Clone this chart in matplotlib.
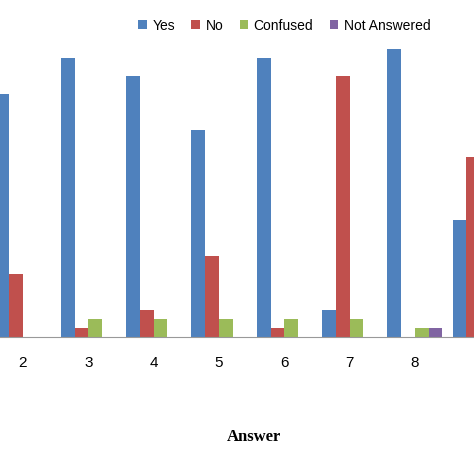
import numpy as np
import matplotlib.pyplot as plt

questions = [1, 2, 3, 4, 5, 6, 7, 8, 9]
yes = [30, 27, 31, 29, 23, 31, 3, 32, 13]
no = [4, 7, 1, 3, 9, 1, 29, 0, 20]
confused = [0, 0, 2, 2, 2, 2, 2, 1, 1]
not_answered = [0, 0, 0, 0, 0, 0, 0, 1, 0]

series = [("Yes", yes, "#4F81BD"), ("No", no, "#C0504D"),
          ("Confused", confused, "#9BBB59"), ("Not Answered", not_answered, "#8064A2")]

fig = plt.figure(figsize=(4.74, 4.74), dpi=100)
ax = fig.add_axes([0, 0.289, 1, 0.665])

x = np.array(questions)
w = 0.21
for i, (name, vals, col) in enumerate(series):
    ax.bar(x + (i - 1.5) * w, vals, w, color=col, label=name)

ax.set_xticks(x[1:8])
ax.set_xticklabels([str(q) for q in questions[1:8]], fontsize=11, family="Liberation Sans")
ax.set_xlim(1.648, 8.906)
ax.set_ylim(0, 35)
ax.tick_params(axis="x", length=0, pad=14)
ax.set_yticks([])
for s in ["top", "right", "left"]:
    ax.spines[s].set_visible(False)
ax.spines["bottom"].set_color("#999999")

ax.legend(loc="upper center", bbox_to_anchor=(0.6, 1.05), ncol=4, frameon=False,
          handlelength=0.6, handleheight=0.6, columnspacing=1.2, handletextpad=0.4,
          prop={"family": "Liberation Sans", "size": 10})

fig.text(0.535, 0.07, "Answer", ha="center", fontsize=12, fontweight="bold",
         family="Liberation Serif")

fig.savefig("out.png", dpi=100)
